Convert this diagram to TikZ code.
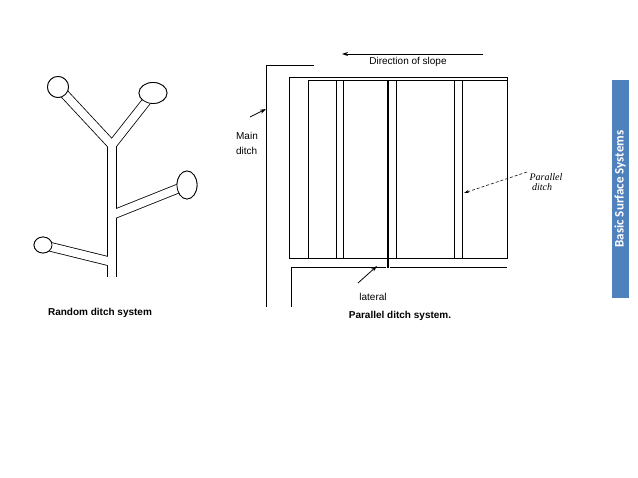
\documentclass[tikz,border=0pt]{standalone}
\usepackage{fontspec}
\setmainfont{Liberation Sans}
\newfontfamily\calfont{Carlito}
\newfontfamily\handfont{Liberation Serif}
\usetikzlibrary{arrows.meta,shapes.geometric}
\definecolor{barblue}{RGB}{79,129,189}
\begin{document}
\begin{tikzpicture}[x=1pt,y=-1pt,
  ln/.style={line width=0.8pt},
  ditchout/.style={line width=9.6pt,black},
  ditchin/.style={line width=8pt,white},
  pond/.style={draw,fill=white,line width=0.8pt},
  lbl/.style={font=\fontsize{10}{12}\selectfont,inner sep=0pt,align=left},
  blbl/.style={font=\bfseries\fontsize{10}{12}\selectfont,inner sep=0pt},
  arr/.style={-{Stealth[length=6pt,width=4pt]},line width=0.8pt}]
\useasboundingbox (0,0) rectangle (638,478);
% random ditch system
\coordinate (fork) at (112,145);
\coordinate (base) at (112,277);
\coordinate (j1) at (112,215);
\coordinate (j2) at (112,262);
\node[pond,circle,minimum size=21pt,inner sep=0pt] (p1) at (58,87) {};
\node[pond,ellipse,minimum width=28pt,minimum height=21pt,inner sep=0pt] (p2) at (153,93) {};
\node[pond,ellipse,minimum width=20pt,minimum height=28pt,inner sep=0pt] (p3) at (187,185) {};
\node[pond,ellipse,minimum width=18pt,minimum height=16pt,inner sep=0pt] (p4) at (43,245) {};
\foreach \s in {ditchout,ditchin}{
  \draw[\s] (base) -- (fork);
  \draw[\s] (fork) -- (p1.center);
  \draw[\s] (fork) -- (p2.center);
  \draw[\s] (j1) -- (p3.center);
  \draw[\s] (j2) -- (p4.center);
}
\draw[white,line width=9pt] (base) ++(0,0.5) -- ++(0,8);
\node[pond,circle,minimum size=21pt,inner sep=0pt] at (p1) {};
\node[pond,ellipse,minimum width=28pt,minimum height=21pt,inner sep=0pt] at (p2) {};
\node[pond,ellipse,minimum width=20pt,minimum height=28pt,inner sep=0pt] at (p3) {};
\node[pond,ellipse,minimum width=18pt,minimum height=16pt,inner sep=0pt] at (p4) {};
\node[blbl] (rcap) at (100,313) {Random ditch system};
% parallel ditch system
\coordinate (s1) at (483,54); \coordinate (s2) at (342,54);
\draw[arr] (s1) -- (s2);
\node[lbl] (dir) at (408,62) {Direction of slope};
\draw[ln] (314,65) -- (266,65) -- (266,307);
\draw[ln] (289,77) -- (326,77);
\draw[ln] (289,77) rectangle (507,258);
\draw[ln] (308,80) -- (507,80);
\foreach \x in {308,336,343,396,454,462}{\draw[ln] (\x,80) -- (\x,258);}
\draw[line width=1.1pt] (388,80) -- (388,268);
\draw[ln] (291,307) -- (291,267) -- (386,267);
\draw[ln] (390,267) -- (507,267);
\coordinate (ma) at (250,117); \coordinate (mb) at (266,109);
\draw[arr] (ma) -- (mb);
\node[lbl] (main) at (247,143) {Main\\[3pt]ditch};
\coordinate (la) at (358,283); \coordinate (lb) at (377,266);
\draw[arr] (la) -- (lb);
\node[lbl] (lat) at (373,297) {lateral};
\node[blbl] (pcap) at (400,316) {Parallel ditch system.};
\node[font=\handfont\itshape\fontsize{10}{10}\selectfont,align=left,inner sep=0pt] (pd) at (546,182) {Parallel\\\ ditch};
\coordinate (pe) at (464,193);
\draw[densely dashed,line width=0.5pt,-{Stealth[length=5pt,width=3pt]}] (527,172) -- (pe);
% side bar
\node[fill=barblue,minimum width=17pt,minimum height=218pt,inner sep=0pt] (bar) at (620,189) {};
\node[rotate=90,text=white,font=\calfont\bfseries\fontsize{13}{13}\selectfont] (bt) at (bar.center) {Basic Surface Systems};
\end{tikzpicture}
\end{document}
